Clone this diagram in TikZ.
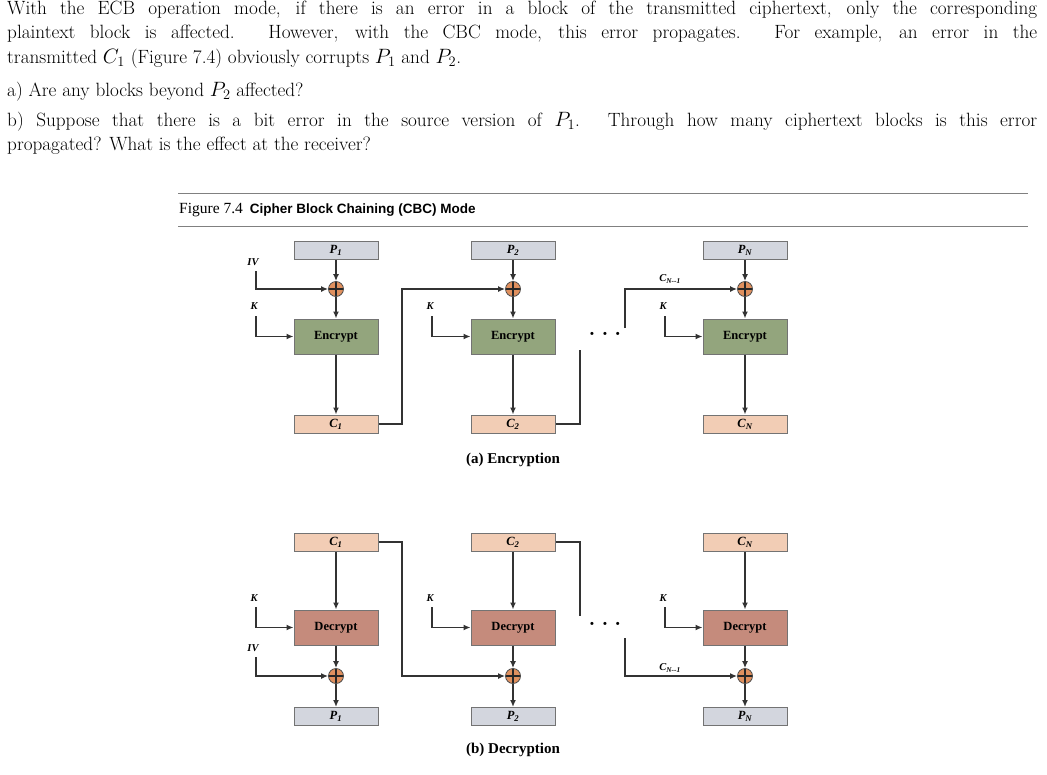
\documentclass[tikz,border=0pt]{standalone}
\usepackage{fontspec}
\newfontfamily\dserif{Liberation Serif}
\newfontfamily\dsans{Liberation Sans}
\usetikzlibrary{arrows.meta}
\definecolor{pcol}{HTML}{D3D6DE}
\definecolor{ccol}{HTML}{F2CDB5}
\definecolor{ecol}{HTML}{93A57D}
\definecolor{dcol}{HTML}{C58B7C}
\definecolor{xcol}{HTML}{E0905E}
\newcommand{\blk}[2]{{\itshape #1}\textsubscript{\itshape #2}}
\begin{document}
\begin{tikzpicture}[x=1pt,y=-1pt,
  box/.style={draw=black!55,line width=1pt,minimum width=84pt,inner sep=0pt,font=\dserif\bfseries\fontsize{12.5}{14}\selectfont},
  pbox/.style={box,fill=pcol,minimum height=18pt},
  cbox/.style={box,fill=ccol,minimum height=18pt},
  ebox/.style={box,fill=ecol,minimum height=35pt},
  dbox/.style={box,fill=dcol,minimum height=35pt},
  xo/.style={circle,draw=black!70,line width=0.8pt,fill=xcol,minimum size=15pt,inner sep=0pt,path picture={\draw[black!85,line width=1.2pt] (path picture bounding box.north)--(path picture bounding box.south) (path picture bounding box.west)--(path picture bounding box.east);}},
  lab/.style={font=\dserif\bfseries\itshape\fontsize{10.5}{12}\selectfont,inner sep=0pt},
  ar/.style={-{Latex[length=7pt,width=6pt]},line width=1.4pt,black!80},
  ln/.style={line width=1.4pt,black!80},
  dots/.style={font=\fontsize{22}{22}\selectfont\bfseries}]
\useasboundingbox (0,0) rectangle (1047,774);
\node[anchor=north west,inner sep=0pt,text width=1030pt,align=justify,font=\fontsize{19.2}{24.2}\selectfont] (txt) at (7,1) {With the ECB operation mode, if there is an error in a block of the transmitted ciphertext, only the corresponding\linebreak plaintext block is affected. However, with the CBC mode, this error propagates. For example, an error in the\linebreak transmitted $C_1$ (Figure 7.4) obviously corrupts $P_1$ and $P_2$.\par\vspace{9pt}
\noindent a) Are any blocks beyond $P_2$ affected?\par\vspace{6pt}
\noindent b) Suppose that there is a bit error in the source version of $P_1$. Through how many ciphertext blocks is this error\linebreak propagated? What is the effect at the receiver?};
\draw[black!50,line width=0.8pt] (178,193) coordinate (r1a) -- (1028,193) coordinate (r1b);
\draw[black!50,line width=0.8pt] (178,226) coordinate (r2a) -- (1028,226) coordinate (r2b);
\node[anchor=west,inner sep=0pt] (ttl) at (179,210) {{\dserif\fontsize{15.5}{17}\selectfont Figure 7.4}\hspace{7pt}{\dsans\bfseries\fontsize{13.5}{16}\selectfont Cipher Block Chaining (CBC) Mode}};
% Encryption
\foreach \i/\x/\s in {1/336/1,2/513/2,3/745/N}{
  \node[pbox] (P\i) at (\x,250.5) {\blk{P}{\s}};
  \node[xo] (X\i) at (\x,289) {};
  \node[ebox] (E\i) at (\x,336.5) {Encrypt};
  \node[cbox] (C\i) at (\x,424) {\blk{C}{\s}};
  \draw[ar] (P\i) -- (X\i);
  \draw[ar] (X\i) -- (E\i);
  \draw[ar] (E\i) -- (C\i);
}
\node[lab] (iv) at (253,262) {IV};
\coordinate (ivs) at (256,271);
\draw[ar] (ivs) |- (X1);
\foreach \i/\x in {1/256,2/432,3/665}{
  \node[lab] (k\i) at (\x-2,306) {K};
  \coordinate (ks\i) at (\x,316);
  \draw[ar] (ks\i) |- (E\i);
}
\coordinate (b1) at (402,424);
\draw[ar] (C1.east) -- (b1) |- (X2);
\coordinate (b2) at (580,424);
\coordinate (b2e) at (580,350);
\draw[ln] (C2.east) -- (b2) -- (b2e);
\node[dots] (dt1) at (605,334) {.\hspace{6pt}.\hspace{6pt}.};
\coordinate (b3) at (625,328);
\draw[ar] (b3) |- (X3);
\node[lab] (cn1) at (670,279) {\blk{C}{N--1}};
\node[font=\dserif\bfseries\fontsize{15}{17}\selectfont,inner sep=0pt] (capa) at (513,460) {(a) Encryption};
% Decryption
\foreach \i/\x/\s in {1/336/1,2/513/2,3/745/N}{
  \node[cbox] (DC\i) at (\x,542) {\blk{C}{\s}};
  \node[dbox] (D\i) at (\x,627.5) {Decrypt};
  \node[xo] (Y\i) at (\x,676) {};
  \node[pbox] (DP\i) at (\x,716.5) {\blk{P}{\s}};
  \draw[ar] (DC\i) -- (D\i);
  \draw[ar] (D\i) -- (Y\i);
  \draw[ar] (Y\i) -- (DP\i);
}
\foreach \i/\x in {1/256,2/432,3/665}{
  \node[lab] (dk\i) at (\x-2,598) {K};
  \coordinate (dks\i) at (\x,607);
  \draw[ar] (dks\i) |- (D\i);
}
\node[lab] (div) at (253,648) {IV};
\coordinate (divs) at (256,657);
\draw[ar] (divs) |- (Y1);
\coordinate (d1) at (402,542);
\draw[ar] (DC1.east) -- (d1) |- (Y2);
\coordinate (d2) at (580,542);
\coordinate (d2e) at (580,616);
\draw[ln] (DC2.east) -- (d2) -- (d2e);
\node[dots] (dt2) at (605,624) {.\hspace{6pt}.\hspace{6pt}.};
\coordinate (d3) at (625,638);
\draw[ar] (d3) |- (Y3);
\node[lab] (dcn1) at (670,668) {\blk{C}{N--1}};
\node[font=\dserif\bfseries\fontsize{15}{17}\selectfont,inner sep=0pt] (capb) at (513,750) {(b) Decryption};
\end{tikzpicture}
\end{document}
